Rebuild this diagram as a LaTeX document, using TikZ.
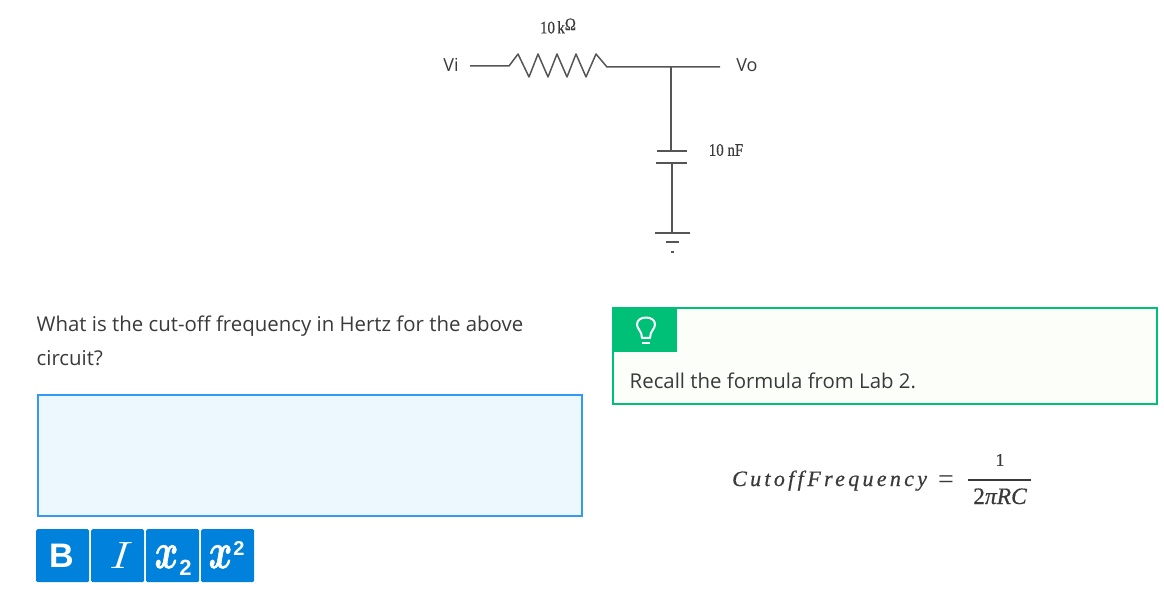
\documentclass[tikz,border=0pt]{standalone}
\usepackage{fontspec}
\setmainfont{Open Sans}
\newfontfamily\serifA{Liberation Serif}
\newfontfamily\serifB[FakeBold=0.5]{Liberation Serif}
\newfontfamily\serifS[LetterSpace=15,FakeBold=0.6]{Liberation Serif}
\newfontfamily\sansB{Liberation Sans}
\newfontfamily\lmmath[FakeBold=1.5]{Latin Modern Math}
\newcommand{\lmbi}{\lmmath\fontsize{36}{42}\selectfont}
\newcommand{\lmit}{\fontfamily{lmr}\fontseries{m}\fontshape{it}\fontsize{38}{42}\selectfont}
\definecolor{ink}{HTML}{3A3A3A}
\definecolor{wire}{HTML}{555555}
\definecolor{okgreen}{HTML}{00BF77}
\definecolor{okfill}{HTML}{FBFEF9}
\definecolor{ansblue}{HTML}{3399F5}
\definecolor{ansfill}{HTML}{EDF8FE}
\definecolor{btn}{HTML}{0082DC}
\tikzset{
  wireline/.style={draw=wire,line width=1.5pt,line join=round},
  body/.style={inner sep=0pt,text=ink,font=\fontsize{20.4}{24}\selectfont,anchor=base west},
  circ/.style={inner sep=0pt,text=ink,font=\fontsize{18}{22}\selectfont},
  val/.style={inner sep=0pt,text=ink,font=\serifB\fontsize{16}{18}\selectfont,xscale=.93,yscale=1.1},
  btnbox/.style={fill=btn,rounded corners=1.5pt,minimum width=53pt,minimum height=53pt,inner sep=0pt,anchor=north west},
  btntext/.style={inner sep=0pt,text=white},
  formula/.style={inner sep=0pt,text=ink},
}
\begin{document}
\begin{tikzpicture}[x=1pt,y=-1pt]
\useasboundingbox (0,0) rectangle (1164,609);
% circuit
\node[circ] (vi) at (451,65) {Vi};
\node[circ] (vo) at (747,65) {Vo};
\node[val] (rv) at (558,26) {10\,k\raisebox{3pt}{Ω}};
\node[val] (cv) at (726,150) {10 nF};
\coordinate (a) at (470,66);
\coordinate (r0) at (509,66);
\coordinate (r1) at (607,67);
\coordinate (j) at (671,67);
\coordinate (b) at (720,67);
\coordinate (c1) at (671,151);
\coordinate (c2) at (672,163);
\coordinate (g) at (672,233);
\draw[wireline] (a) -- (r0) -- (518,54) -- (529,77) -- (538,54) -- (548,77) -- (557,54) -- (567,77) -- (576,54) -- (586,77) -- (596,54) -- (r1) -- (j) -- (b);
\draw[wireline] (j) -- (c1);
\draw[wireline] (657,151) -- (687,151);
\draw[wireline] (656,163) -- (687,163);
\draw[wireline] (c2) -- (g);
\draw[wireline] (655,233) -- (690,233);
\draw[wireline] (666,242) -- (679,242);
\draw[wireline] (671,252) -- (674,252);
% question
\node[body] (q1) at (36.5,331.5) {What is the cut-off frequency in Hertz for the above};
\node[body] (q2) at (36.5,365) {circuit?};
\node[draw=ansblue,fill=ansfill,line width=2pt,minimum width=544pt,minimum height=121pt,inner sep=0pt,anchor=north west] (ans) at (37,394) {};
% buttons
\node[btnbox] (bB) at (36,529) {};
\node[btnbox] (bI) at (91,529) {};
\node[btnbox] (bS) at (146,529) {};
\node[btnbox] (bP) at (201,529) {};
\node[btntext,anchor=base,font=\sansB\bfseries\fontsize{34}{36}\selectfont] (tB) at (61.5,567.5) {B};
\node[btntext,anchor=base,font=\lmit,xscale=1.3] (tI) at (117.5,568) {I};
\node[btntext,anchor=base,font=\lmbi,yscale=1.4] (tS) at (166.5,568) {𝒙};
\node[btntext,anchor=base,font=\sansB\bfseries\fontsize{22}{24}\selectfont] (tS2) at (185.5,575) {2};
\node[btntext,anchor=base,font=\lmbi,yscale=1.4] (tP) at (220.5,568) {𝒙};
\node[btntext,anchor=base,font=\sansB\bfseries\fontsize{20}{24}\selectfont] (tP2) at (239,555) {2};
% hint
\node[draw=okgreen,fill=okfill,line width=2pt,minimum width=544pt,minimum height=95pt,inner sep=0pt,anchor=north west] (hint) at (612,307.5) {};
\fill[okgreen] (613,309) rectangle (677,352);
\draw[white,line width=2pt,line cap=round,line join=round] (642,338) .. controls (642,331) and (637,329) .. (637,324.5) .. controls (637,320) and (641,317.5) .. (646,317.5) .. controls (651,317.5) and (655,320) .. (655,324.5) .. controls (655,329) and (650,331) .. (650,338) -- cycle;
\draw[white,line width=2.2pt] (642,343) -- (650,343);
\node[body] (tip) at (629.5,388) {Recall the formula from Lab 2.};
% formula
\node[formula,anchor=base west,font=\serifS\itshape\fontsize{22}{24}\selectfont] (cf) at (732,486) {Cutoff\,Frequency};
\node[formula,anchor=base west,font=\serifA\fontsize{28}{28}\selectfont] (eq) at (938,488) {=};
\node[formula,font=\serifB\fontsize{18}{20}\selectfont] (one) at (1000,460) {1};
\node[formula,anchor=base,font=\serifB\fontsize{23.5}{24}\selectfont] (den) at (1000,504) {2{\itshape π}{\itshape RC}};
\draw[draw=ink,line width=1.3pt] (968,480) -- (1031,480);
\end{tikzpicture}
\end{document}
